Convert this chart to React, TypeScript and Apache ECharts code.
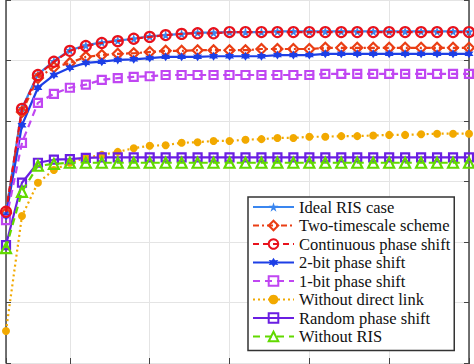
import React, { useEffect, useRef } from "react";
import * as echarts from "echarts";

const xValues = [1, 2, 3, 4, 5, 6, 7, 8, 9, 10, 11, 12, 13, 14, 15, 16, 17, 18, 19, 20, 21, 22, 23, 24, 25, 26, 27, 28, 29, 30];

const seriesNames = [
  "Ideal RIS case",
  "Two-timescale scheme",
  "Continuous phase shift",
  "2-bit phase shift",
  "1-bit phase shift",
  "Without direct link",
  "Random phase shift",
  "Without RIS",
];

const idealRIS = [2.48, 4.21, 4.77, 4.99, 5.17, 5.25, 5.30, 5.33, 5.36, 5.40, 5.42, 5.44, 5.46, 5.46, 5.47, 5.47, 5.47, 5.48, 5.48, 5.48, 5.48, 5.48, 5.48, 5.48, 5.48, 5.48, 5.48, 5.48, 5.48, 5.48];
const twoTimescale = [2.48, 4.15, 4.71, 4.89, 4.96, 5.06, 5.09, 5.11, 5.12, 5.14, 5.16, 5.16, 5.17, 5.17, 5.17, 5.17, 5.19, 5.19, 5.19, 5.19, 5.21, 5.21, 5.21, 5.21, 5.21, 5.21, 5.21, 5.21, 5.21, 5.21];
const continuousPS = [2.50, 4.20, 4.76, 4.98, 5.16, 5.24, 5.29, 5.32, 5.36, 5.39, 5.42, 5.44, 5.45, 5.45, 5.47, 5.47, 5.47, 5.47, 5.47, 5.47, 5.47, 5.47, 5.47, 5.47, 5.47, 5.47, 5.47, 5.47, 5.47, 5.47];
const twoBitPS = [2.43, 3.93, 4.55, 4.76, 4.88, 4.96, 4.98, 5.01, 5.02, 5.04, 5.06, 5.06, 5.06, 5.07, 5.07, 5.07, 5.07, 5.09, 5.09, 5.09, 5.11, 5.11, 5.11, 5.11, 5.11, 5.11, 5.11, 5.11, 5.11, 5.11];
const oneBitPS = [2.36, 3.64, 4.30, 4.45, 4.55, 4.60, 4.68, 4.71, 4.73, 4.74, 4.76, 4.76, 4.76, 4.76, 4.76, 4.76, 4.76, 4.76, 4.76, 4.76, 4.78, 4.78, 4.78, 4.78, 4.78, 4.78, 4.78, 4.78, 4.78, 4.78];
const withoutDirect = [0.53, 2.43, 2.98, 3.19, 3.31, 3.39, 3.44, 3.49, 3.55, 3.59, 3.60, 3.64, 3.65, 3.67, 3.67, 3.69, 3.70, 3.72, 3.72, 3.74, 3.74, 3.75, 3.75, 3.76, 3.77, 3.77, 3.78, 3.79, 3.79, 3.79];
const randomPS = [1.95, 2.98, 3.31, 3.36, 3.37, 3.39, 3.40, 3.40, 3.40, 3.40, 3.40, 3.40, 3.40, 3.40, 3.40, 3.40, 3.40, 3.40, 3.40, 3.40, 3.40, 3.40, 3.40, 3.40, 3.40, 3.40, 3.40, 3.40, 3.40, 3.40];
const withoutRIS = [1.90, 2.83, 3.26, 3.29, 3.31, 3.31, 3.31, 3.31, 3.31, 3.31, 3.31, 3.31, 3.31, 3.31, 3.31, 3.31, 3.31, 3.31, 3.31, 3.31, 3.31, 3.31, 3.31, 3.31, 3.31, 3.31, 3.31, 3.31, 3.31, 3.31];

const STAR5 = "path://M50,0 L61.2,34.5 L97.6,34.5 L68.2,55.9 L79.4,90.5 L50,69.1 L20.6,90.5 L31.8,55.9 L2.4,34.5 L38.8,34.5 Z";
const STAR6 = "path://M50,0 L64,25.8 L93.3,25 L78,50 L93.3,75 L64,74.2 L50,100 L36,74.2 L6.7,75 L22,50 L6.7,25 L36,25.8 Z";

function pairs(vals: number[]) {
  return vals.map((v, i) => [xValues[i], v]);
}

export default function App() {
  const ref = useRef<HTMLDivElement>(null);
  useEffect(() => {
    if (!ref.current) return;
    const chart = echarts.init(ref.current, null, { renderer: "svg" });

    const mk = (
      name: string,
      vals: number[],
      color: string,
      lineType: any,
      symbol: string,
      symbolSize: number,
      filled: boolean,
      z: number
    ) => ({
      name,
      type: "line",
      data: pairs(vals),
      symbol,
      symbolSize,
      showSymbol: true,
      z,
      lineStyle: { color, width: 2.2, type: lineType },
      itemStyle: filled
        ? { color, borderColor: color, borderWidth: 0 }
        : { color: "rgba(255,255,255,0)", borderColor: color, borderWidth: 2.2 },
      emphasis: { disabled: true },
    });

    const series = [
      mk(seriesNames[0], idealRIS, "#3a86ef", "solid", STAR5, 10, true, 2),
      mk(seriesNames[1], twoTimescale, "#ea3e14", [6, 3, 2, 3], "diamond", 10, false, 3),
      mk(seriesNames[2], continuousPS, "#e8121c", [6, 4], "circle", 10, false, 4),
      mk(seriesNames[3], twoBitPS, "#1d3fe6", "solid", STAR6, 9, true, 3),
      mk(seriesNames[4], oneBitPS, "#c046f2", [7, 5], "rect", 8, false, 3),
      mk(seriesNames[5], withoutDirect, "#f2a900", [2, 3], "circle", 8, true, 3),
      mk(seriesNames[6], randomPS, "#6a1ee2", "solid", "rect", 8, false, 3),
      mk(seriesNames[7], withoutRIS, "#62d900", [7, 5], "triangle", 10, false, 4),
    ];

    const axisCommon = {
      type: "value" as const,
      axisLabel: { show: false },
      axisTick: { show: true, inside: true, length: 5, lineStyle: { color: "#444", width: 1 } },
    };

    chart.setOption({
      animation: false,
      backgroundColor: "#ffffff",
      grid: { left: 6, right: 5, top: 0, bottom: 1, containLabel: false },
      xAxis: [
        {
          ...axisCommon,
          min: 1,
          max: 30,
          splitNumber: 6,
          position: "bottom",
          axisLine: { show: false },
          splitLine: { show: true, lineStyle: { color: "#e4e4e4", width: 1 } },
        },
        {
          ...axisCommon,
          min: 1,
          max: 30,
          splitNumber: 6,
          position: "top",
          axisLine: { show: false },
          splitLine: { show: false },
        },
      ],
      yAxis: [
        {
          ...axisCommon,
          min: 0,
          max: 6,
          interval: 1,
          position: "left",
          axisLine: { show: true, lineStyle: { color: "#444", width: 1.5 } },
          splitLine: { show: true, lineStyle: { color: "#e4e4e4", width: 1 } },
        },
        {
          ...axisCommon,
          min: 0,
          max: 6,
          interval: 1,
          position: "right",
          axisLine: { show: true, lineStyle: { color: "#444", width: 1.5 } },
          splitLine: { show: false },
        },
      ],
      legend: {
        show: true,
        orient: "vertical",
        left: 248,
        top: 197,
        data: seriesNames,
        itemWidth: 41,
        itemHeight: 12,
        itemGap: 1.5,
        padding: [1.5, 4, 5.5, 4],
        backgroundColor: "#ffffff",
        borderColor: "#333333",
        borderWidth: 1.5,
        borderRadius: 0,
        selectedMode: false,
        textStyle: {
          fontFamily: "Liberation Serif",
          fontSize: 16.5,
          lineHeight: 16.5,
          color: "#111111",
        },
      },
      series,
    });
    return () => chart.dispose();
  }, []);

  return (
    <div
      ref={ref}
      style={{ position: "fixed", left: 0, top: 0, width: 474, height: 364, background: "#fff" }}
    />
  );
}
